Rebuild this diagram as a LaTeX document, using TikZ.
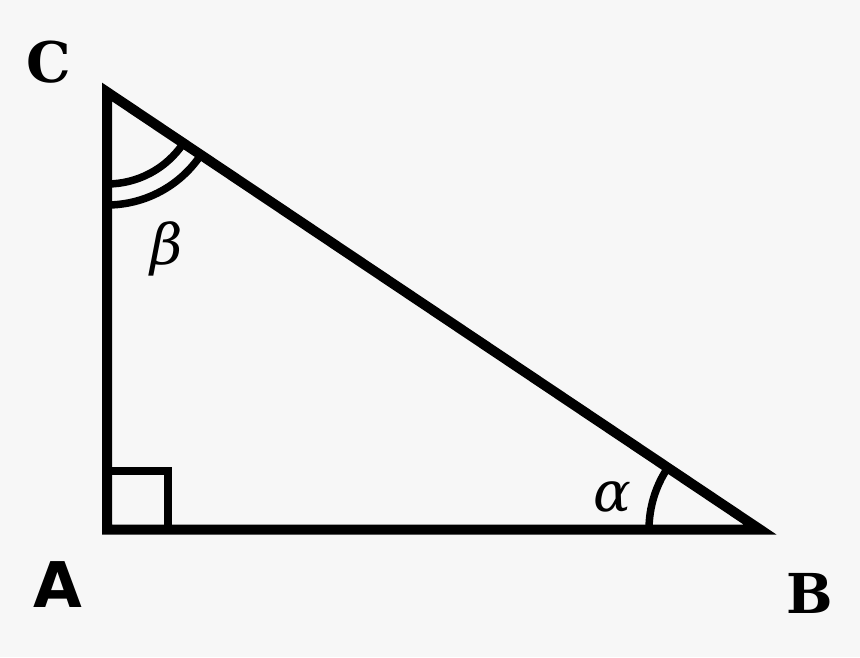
\documentclass[tikz,border=0pt]{standalone}
\usepackage{fontspec}
\setmainfont{DejaVu Serif}
\newfontfamily\labsans{DejaVu Sans}
\definecolor{bg}{HTML}{F7F7F7}
\begin{document}
\begin{tikzpicture}[x=1pt,y=1pt,
  tri/.style={line width=10pt,line join=miter},
  mark/.style={line width=8pt},
  lab/.style={inner sep=0pt,font=\fontsize{56}{60}\selectfont\bfseries},
  ang/.style={inner sep=0pt,font=\fontsize{56}{60}\selectfont\itshape}]
\fill[bg] (0,0) rectangle (860,657);
\useasboundingbox (0,0) rectangle (860,657);
\coordinate (A) at (107,127.5);
\coordinate (B) at (760,127.5);
\coordinate (C) at (107,565);
\coordinate (S1) at (107,186);
\coordinate (S2) at (168,186);
\coordinate (S3) at (168,127.5);
\draw[tri] (A) -- (B) -- (C) -- cycle;
\draw[line width=8pt] (S1) -- (S2) -- (S3);
\draw[line width=7.5pt] (C) ++(-90:92) arc[start angle=-90,end angle=-33.8,radius=92];
\draw[line width=7.5pt] (C) ++(-90:113) arc[start angle=-90,end angle=-33.8,radius=113];
\draw[line width=7.5pt] (B) ++(146.2:111) arc[start angle=146.2,end angle=180,radius=111];
\node[lab] (lC) at (49,595) {C};
\node[lab,font=\fontsize{63}{66}\selectfont\bfseries\labsans] (lA) at (58,72) {A};
\node[lab,font=\fontsize{55}{60}\selectfont\bfseries] (lB) at (810,64) {B};
\node[ang] (lb) at (167,408) {β};
\node[ang] (la) at (612,160) {α};
\end{tikzpicture}
\end{document}
